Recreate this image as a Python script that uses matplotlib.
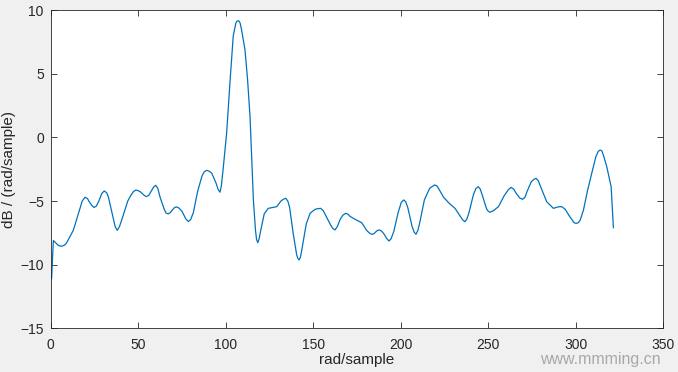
import numpy as np
import matplotlib
matplotlib.use("Agg")
import matplotlib.pyplot as plt

# spectrum (rad/sample, dB)
freq = [0.5, 1.5, 3, 4.5, 6.3, 8, 9, 12.9, 16, 18, 19.6, 21, 22, 23.5, 24.7, 26,
        27.5, 29.2, 30.6, 32, 33, 35.5, 36.8, 38.0, 39.3, 41, 44, 46, 47.3, 48.7,
        50, 51.5, 53, 54.5, 56, 57.5, 58.8, 60.0, 61.2, 62.5, 65, 66, 67.2, 68.3,
        69.5, 70.8, 72.0, 73.3, 75, 77.2, 78.6, 80, 81.5, 84, 86.5, 87.7, 89.1,
        90.5, 92, 94.5, 95.7, 96.7, 97.5, 98.5, 100.5, 102.5, 104.3, 105.8, 106.5,
        107.4, 108.2, 109, 111, 112.5, 113.9, 115.8, 117, 117.6, 118.3, 119, 120,
        122, 124.3, 127, 129.1, 131.5, 133, 134.3, 135.5, 136.5, 138.5, 140.5,
        141.2, 141.9, 142.7, 143.5, 146, 148.2, 151, 152.5, 154.2, 155.7, 157, 160,
        161.2, 162.4, 163.8, 165.5, 167, 168.6, 170, 171, 173.9, 177.7, 180.5, 182,
        183.4, 184.5, 185.5, 186.7, 187.8, 189, 190.5, 192, 193.3, 194.5, 196,
        198.5, 200.3, 201.7, 202.8, 204, 206.5, 207.7, 208.7, 209.8, 211, 213.5,
        216.5, 218, 219.4, 220.8, 222, 224.5, 227.5, 231, 234, 235.5, 236.7, 237.8,
        239, 241.5, 243, 244.3, 245.4, 246.5, 249, 250, 251, 253, 255.8, 259,
        261.5, 263, 264.5, 266, 268, 269.5, 271, 272, 274.5, 276, 277.3, 278.6,
        280, 283.4, 287.2, 290, 292, 294, 296, 299, 300.2, 301.4, 302.5, 304.4,
        306.5, 309.1, 311.5, 312.8, 313.9, 314.9, 315.8, 317.7, 320.2, 321.5]
psd_db = [-11.1, -8.1, -8.3, -8.5, -8.55, -8.45, -8.3, -7.3, -5.9, -5.0, -4.7, -4.8,
          -5.05, -5.35, -5.5, -5.4, -5.0, -4.4, -4.2, -4.35, -4.7, -6.2, -7.0, -7.3,
          -7.0, -6.3, -5.0, -4.5, -4.25, -4.13, -4.18, -4.3, -4.5, -4.65, -4.55,
          -4.2, -3.9, -3.76, -4.0, -4.7, -5.7, -5.95, -6.0, -5.9, -5.7, -5.5, -5.46,
          -5.55, -5.8, -6.4, -6.6, -6.45, -5.9, -4.2, -3.0, -2.7, -2.58, -2.65,
          -2.8, -3.6, -4.1, -4.3, -3.8, -2.5, 0.33, 4.5, 8.0, 9.0, 9.15, 9.18, 9.0,
          8.5, 6.9, 4.5, 1.6, -4.9, -7.3, -8.0, -8.27, -8.0, -7.3, -6.0, -5.57,
          -5.5, -5.44, -5.0, -4.85, -4.78, -5.0, -5.5, -7.5, -9.2, -9.5, -9.63,
          -9.4, -8.8, -6.8, -5.96, -5.65, -5.6, -5.57, -5.75, -6.1, -6.9, -7.15,
          -7.27, -7.0, -6.4, -6.1, -5.96, -6.05, -6.2, -6.43, -6.7, -7.3, -7.5,
          -7.61, -7.58, -7.45, -7.3, -7.27, -7.35, -7.6, -7.95, -8.14, -7.95, -7.4,
          -5.9, -5.1, -4.91, -5.05, -5.5, -7.0, -7.45, -7.61, -7.3, -6.6, -4.9,
          -4.0, -3.85, -3.73, -3.82, -4.1, -4.7, -5.15, -5.57, -6.2, -6.5, -6.62,
          -6.4, -5.9, -4.5, -4.0, -3.87, -4.05, -4.5, -5.6, -5.8, -5.88, -5.75,
          -5.44, -4.6, -4.1, -3.92, -4.05, -4.4, -4.75, -4.86, -4.7, -4.3, -3.5,
          -3.3, -3.21, -3.4, -3.9, -5.05, -5.57, -5.45, -5.44, -5.65, -6.1, -6.7,
          -6.75, -6.7, -6.5, -5.7, -4.3, -2.82, -1.5, -1.1, -0.98, -1.05, -1.4,
          -2.29, -3.87, -7.09]

xticks = [0, 50, 100, 150, 200, 250, 300, 350]
yticks = [-15, -10, -5, 0, 5, 10]

plt.rcParams['font.family'] = ['Liberation Sans Narrow', 'Liberation Sans', 'DejaVu Sans']

fig = plt.figure(figsize=(6.78, 3.72), dpi=100, facecolor='#f0f0f0')
ax = fig.add_axes([0.0748, 0.1175, 0.9035, 0.8548])
ax.plot(freq, psd_db, color='#0072bd', lw=0.9)

ax.set_xlim(0, 350)
ax.set_ylim(-15, 10)
ax.set_xticks(xticks)
ax.set_yticks(yticks)
ax.tick_params(direction='in', top=True, right=True, length=4, width=0.6,
               labelsize=10, colors='#262626')
ax.tick_params(axis='x', pad=7)
ax.tick_params(axis='y', pad=5)
for s in ax.spines.values():
    s.set_linewidth(0.6)
    s.set_color('#262626')
ax.set_xlabel('rad/sample', fontsize=11, color='#262626', labelpad=1)
ax.set_ylabel('dB / (rad/sample)', fontsize=11, color='#262626', labelpad=3)

# watermark, kept just below the tick labels
fig.text(0.975, 0.034, 'www.mmming.cn', fontsize=11.5, color='#a8a8a8', ha='right', va='center')

fig.savefig('out.png', dpi=100, facecolor=fig.get_facecolor())
